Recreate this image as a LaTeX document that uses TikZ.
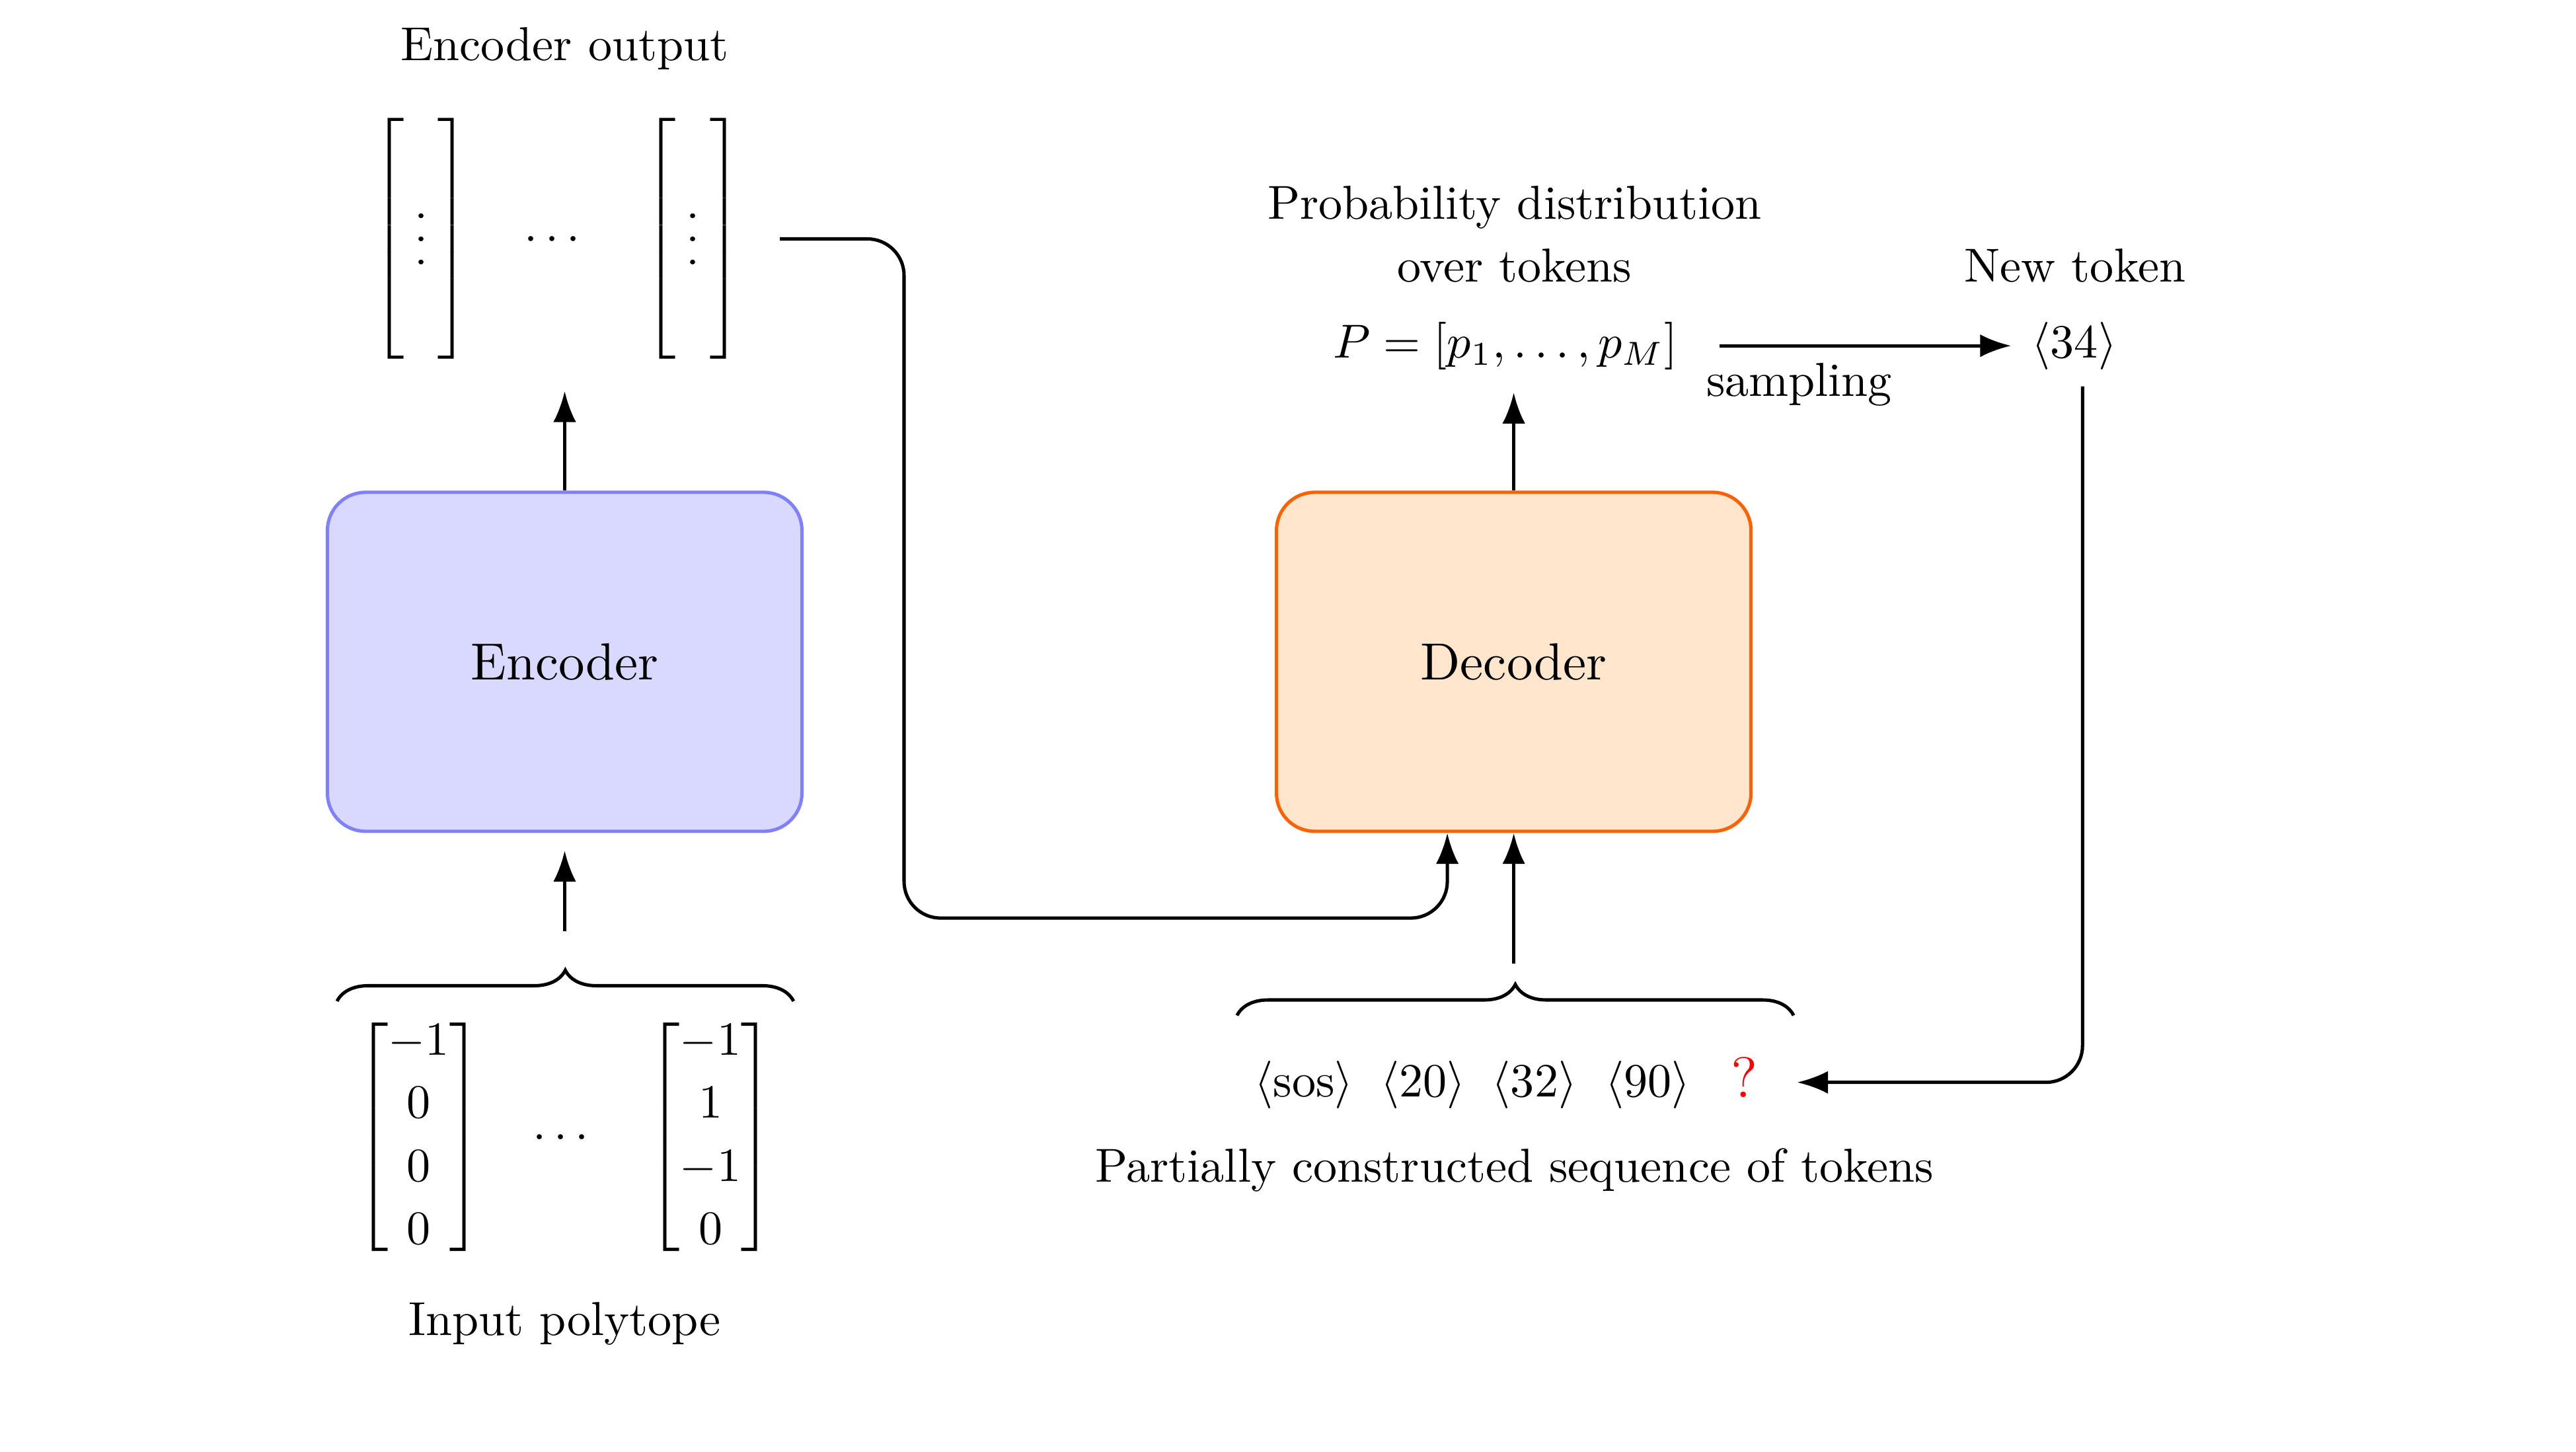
\documentclass[tikz,border=0pt]{standalone}
\usepackage{amsmath}
\usepackage{graphicx}
\usetikzlibrary{arrows.meta,decorations.pathreplacing}
\definecolor{encfill}{HTML}{D9D9FF}
\definecolor{encdraw}{HTML}{8080FF}
\definecolor{decfill}{HTML}{FFE6CC}
\definecolor{decdraw}{HTML}{FF6000}
\newcommand{\encvec}{\scalebox{1}[0.936]{$\left[\hspace{2.2pt}\vcenter to 54pt{\vss\baselineskip=5.18pt\lineskiplimit=0pt\hbox{.}\hbox{.}\hbox{.}\vss}\hspace{2.2pt}\right]$}}
\renewcommand{\arraystretch}{1.0}
\begin{document}
\begin{tikzpicture}[x=1cm,y=1cm,
  font=\fontsize{10}{13.2}\selectfont,
  arr/.style={line width=0.7pt, -{Latex[length=6.5pt,width=4.8pt]}},
  procbox/.style={draw, line width=0.7pt, rounded corners=8pt, minimum width=3.5cm, minimum height=2.5cm, font=\fontsize{10.95}{13.6}\selectfont},
  bracestyle/.style={line width=0.7pt, decorate, decoration={brace, amplitude=6.5pt}}]
\useasboundingbox (0,0) rectangle (19,-10.704);

% boxes
\node[procbox, draw=encdraw, fill=encfill] (enc) at (4.165,-4.881) {Encoder};
\node[procbox, draw=decdraw, fill=decfill] (dec) at (11.165,-4.881) {Decoder};

% encoder output
\node[anchor=base] (eolab) at (4.165,-0.448) {Encoder output};
\node (om1) at (3.105,-1.762) {\encvec};
\node[anchor=base] (odots) at (4.104,-1.85) {$\cdots$};
\node (om2) at (5.111,-1.762) {\encvec};
\coordinate (eo) at (4.165,-2.884);
\draw[arr] (enc) -- (eo);

% input polytope
\node (pm1) at (3.090,-8.386) {$\begin{bmatrix}-1\\0\\0\\0\end{bmatrix}$};
\node[anchor=base] (pdots) at (4.164,-8.474) {$\cdots$};
\node (pm2) at (5.240,-8.386) {$\begin{bmatrix}-1\\1\\-1\\0\end{bmatrix}$};
\node[anchor=base] (iplab) at (4.165,-9.846) {Input polytope};
\coordinate (pb1) at (2.486,-7.384);
\coordinate (pb2) at (5.853,-7.384);
\draw[bracestyle] (pb1) -- (pb2);
\coordinate (ptip) at (4.165,-7.150);
\draw[arr, shorten <=0.28cm, shorten >=0.13cm] (ptip) -- (enc);

% decoder output
\node[align=center] (pdlab) at (11.17,-1.7275) {Probability distribution\\over tokens};
\node (P) at (11.104,-2.55) {$P=[p_1,\dots,p_M]$};
\draw[arr, shorten >=0.045cm] (dec.north) -- (dec.north |- P.south);
\node[anchor=base] (ntlab) at (15.305,-2.081) {New token};
\node (t34) at (15.30,-2.55) {$\langle 34\rangle$};
\draw[arr, shorten <=0.185cm, shorten >=0.03cm] (P) -- (t34);
\node[anchor=base] (samp) at (13.27,-2.924) {sampling};

% token sequence
\node (tsos) at (9.617,-8.0) {$\langle\text{sos}\rangle$};
\node (t20) at (10.497,-8.0) {$\langle 20\rangle$};
\node (t32) at (11.318,-8.0) {$\langle 32\rangle$};
\node (t90) at (12.154,-8.0) {$\langle 90\rangle$};
\node[text=red, anchor=base, font=\fontsize{12}{14}\selectfont] (q) at (12.863,-8.096) {?};
\node[anchor=base] (pclab) at (11.17,-8.716) {Partially constructed sequence of tokens};
\coordinate (db1) at (9.124,-7.489);
\coordinate (db2) at (13.229,-7.489);
\draw[bracestyle] (db1) -- (db2);
\coordinate (dtip) at (11.165,-7.253);
\draw[arr, shorten <=0.146cm] (dtip) -- (dec);

% encoder output -> decoder
\coordinate (bend) at (6.668,-6.771);
\draw[arr, rounded corners=0.27cm, shorten <=0.157cm] (om2.east) -| (bend) -| ([xshift=-0.49cm]dec.south);

% feedback new token -> sequence
\draw[arr, rounded corners=0.27cm, shorten >=0.17cm] ([xshift=0.06cm]t34.south) |- ([yshift=-0.035cm]q.east);
\end{tikzpicture}
\end{document}
